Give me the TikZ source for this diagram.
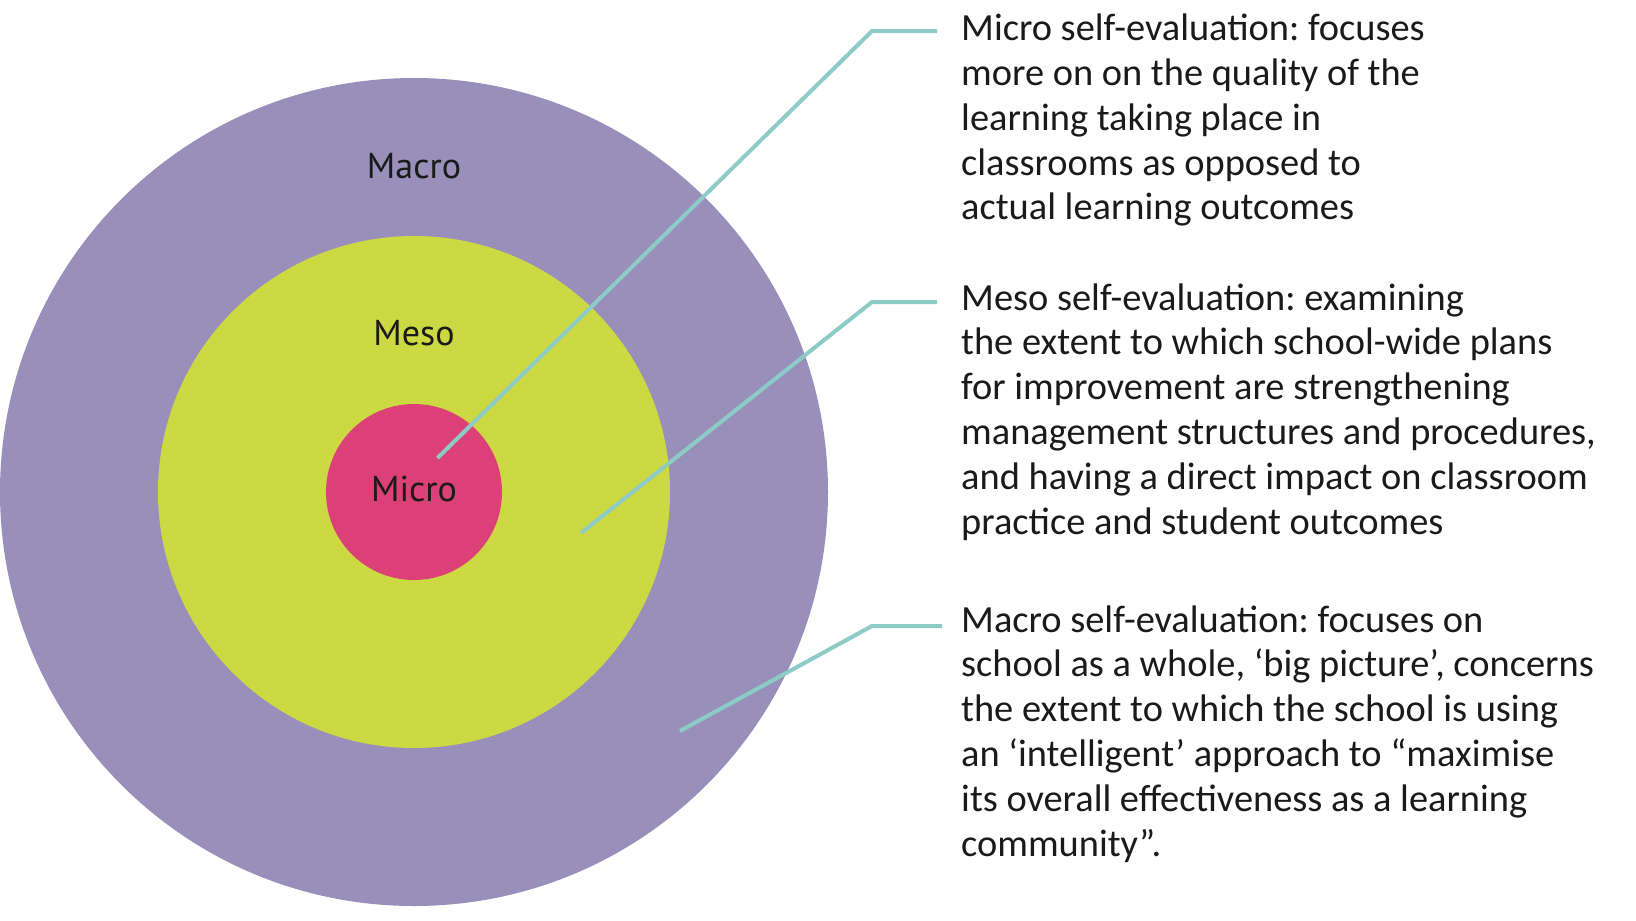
\documentclass[tikz,border=0pt]{standalone}
\usepackage{fontspec}
\setmainfont{Carlito}
\newfontfamily\labfont{PT Sans}
\frenchspacing
\definecolor{macroc}{HTML}{988FBB}
\definecolor{mesoc}{HTML}{CDD942}
\definecolor{microc}{HTML}{DB4177}
\definecolor{connc}{HTML}{8DCBC7}
\definecolor{textc}{HTML}{1A1A1A}
\tikzset{
  ring/.style={circle, inner sep=0pt, draw=none},
  lab/.style={anchor=base, inner sep=0pt, text=textc, font=\labfont\fontsize{36}{40}\selectfont},
  txt/.style={anchor=base west, inner sep=0pt, text=textc, font=\fontsize{38.4}{44}\selectfont},
  conn/.style={draw=connc, line width=4pt, line join=miter}
}
\begin{document}
\begin{tikzpicture}[x=1pt,y=-1pt]
\useasboundingbox (0,0) rectangle (1636,921);
\fill[white] (0,0) rectangle (1636,921);
% circles
\node[ring, fill=macroc, minimum size=828pt] (macro) at (414,492) {};
\node[ring, fill=mesoc, minimum size=512pt] (meso) at (414,492) {};
\node[ring, fill=microc, minimum size=176pt] (micro) at (414,492) {};
% circle labels
\node[lab] (macrolab) at (414,178) {Macro};
\node[lab] (mesolab) at (414,345.5) {Meso};
\node[lab] (microlab) at (414,501) {Micro};
% connectors
\coordinate (miA) at (437.5,458);
\coordinate (miB) at (872,31);
\coordinate (miC) at (937,31);
\coordinate (meA) at (581,533);
\coordinate (meB) at (872,302);
\coordinate (meC) at (937,302);
\coordinate (maA) at (680,731);
\coordinate (maB) at (872,626);
\coordinate (maC) at (942,626);
\draw[conn] (miA) -- (miB) -- (miC);
\draw[conn] (meA) -- (meB) -- (meC);
\draw[conn] (maA) -- (maB) -- (maC);
% micro text
\node[txt] (mi1) at (961,40.7) {Micro self-evaluation: focuses};
\node[txt] (mi2) at (961,85.5) {more on on the quality of the};
\node[txt] (mi3) at (961,130.3) {learning taking place in};
\node[txt] (mi4) at (961,175.1) {classrooms as opposed to};
\node[txt] (mi5) at (961,219.9) {actual learning outcomes};
% meso text
\node[txt] (me1) at (961,310) {Meso self-evaluation: examining};
\node[txt] (me2) at (961,354.8) {the extent to which school-wide plans};
\node[txt] (me3) at (961,399.6) {for improvement are strengthening};
\node[txt] (me4) at (961,444.4) {management structures and procedures,};
\node[txt] (me5) at (961,489.2) {and having a direct impact on classroom};
\node[txt] (me6) at (961,534) {practice and student outcomes};
% macro text
\node[txt] (ma1) at (961,632) {Macro self-evaluation: focuses on};
\node[txt] (ma2) at (961,676.8) {school as a whole, ‘big picture’, concerns};
\node[txt] (ma3) at (961,721.6) {the extent to which the school is using};
\node[txt] (ma4) at (961,766.4) {an ‘intelligent’ approach to “maximise};
\node[txt] (ma5) at (961,811.2) {its overall effectiveness as a learning};
\node[txt] (ma6) at (961,856) {community”.};
\end{tikzpicture}
\end{document}
